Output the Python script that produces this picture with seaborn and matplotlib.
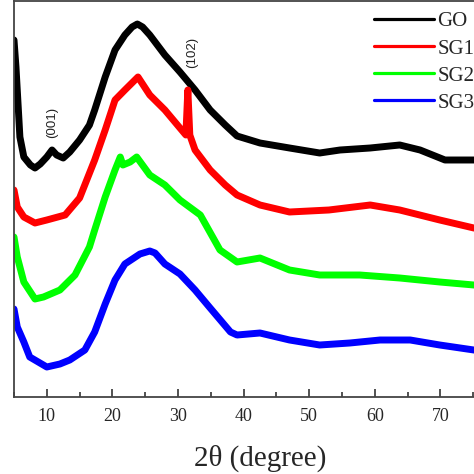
import matplotlib
matplotlib.use('Agg')
import matplotlib.pyplot as plt
from matplotlib.lines import Line2D
from matplotlib.ticker import MultipleLocator
import seaborn as sns
import pandas as pd

# ------------------------------------------------------------
# Datos (intensidad en unidades arbitrarias)
# ------------------------------------------------------------
two_theta_go = [5.0, 5.3, 5.9, 6.5, 7.5, 8.2, 9.0, 10.0, 10.8, 11.5, 12.5, 13.5,
                15.0, 16.5, 17.3, 18.9, 20.4, 21.9, 23.0, 23.8, 24.6, 25.7, 28.0,
                30.3, 32.6, 34.9, 37.2, 39.0, 42.5, 47.0, 51.6, 54.7, 59.3, 63.8,
                66.9, 70.7, 75.1, 80.0]
int_go = [357, 330, 260, 240, 232, 229, 233, 240, 247, 242, 239, 245,
          257, 272, 287, 320, 347, 362, 370, 373, 370, 362, 342,
          325, 307, 287, 272, 261, 254, 249, 244, 247, 249, 252,
          247, 237, 237, 235]

two_theta_sg1 = [5.0, 5.5, 6.5, 8.2, 10.0, 12.8, 15.0, 17.3, 18.9, 20.4, 21.9, 23.9,
                 25.7, 28.0, 30.3, 31.2, 31.5, 31.8, 32.6, 34.9, 37.2, 39.0, 42.5,
                 47.0, 53.0, 59.3, 63.8, 69.9, 75.1, 80.0]
int_sg1 = [207, 190, 180, 174, 177, 182, 199, 237, 267, 297, 307, 320,
           302, 287, 269, 262, 307, 262, 247, 227, 212, 202, 192,
           185, 187, 192, 187, 177, 169, 166]

two_theta_sg2 = [5.0, 5.5, 6.5, 8.2, 9.5, 12.0, 14.3, 16.5, 17.3, 18.9, 20.4, 21.2,
                 21.6, 22.7, 23.7, 25.7, 28.0, 30.3, 33.4, 36.4, 39.0, 42.5, 47.0,
                 51.6, 57.7, 63.8, 69.9, 75.1, 80.0]
int_sg2 = [160, 140, 115, 98, 100, 107, 122, 150, 167, 200, 227, 240,
           232, 235, 240, 222, 212, 197, 182, 147, 135, 139, 127,
           122, 122, 119, 115, 112, 110]

two_theta_sg3 = [5.0, 5.5, 6.5, 7.4, 10.0, 12.0, 13.5, 15.8, 17.3, 18.9, 20.4, 21.9,
                 24.2, 25.7, 26.5, 28.0, 30.3, 32.6, 34.9, 38.0, 39.0, 42.5, 47.0,
                 51.6, 56.2, 60.8, 65.4, 69.9, 75.1, 80.0]
int_sg3 = [88, 70, 55, 40, 30, 33, 37, 47, 65, 93, 117, 133,
           143, 146, 144, 133, 123, 107, 89, 65, 62, 64, 57,
           52, 54, 57, 57, 52, 47, 45]

samples = ['GO', 'SG1', 'SG2', 'SG3']
colors = ['#000000', '#ff0000', '#00ff00', '#0000ff']
tick_values = [10, 20, 30, 40, 50, 60, 70]

# ------------------------------------------------------------
# Tabla larga para seaborn
# ------------------------------------------------------------
frames = []
for name, xs, ys in zip(samples,
                        [two_theta_go, two_theta_sg1, two_theta_sg2, two_theta_sg3],
                        [int_go, int_sg1, int_sg2, int_sg3]):
    frames.append(pd.DataFrame({'two_theta': xs, 'intensity': ys, 'sample': name}))
df = pd.concat(frames, ignore_index=True)

sns.set_theme(style="ticks")
sns.set_style({"xtick.direction": "in", "ytick.direction": "in"})
plt.rcParams['font.family'] = ['Liberation Serif', 'DejaVu Serif']

fig = plt.figure(figsize=(4.74, 4.74), dpi=100)
# el eje se sale por la derecha (la imagen original está recortada)
ax = fig.add_axes([14 / 474, 77 / 474, 492 / 474, 396 / 474])

sns.lineplot(data=df, x='two_theta', y='intensity', hue='sample',
             palette=dict(zip(samples, colors)), linewidth=5,
             legend=False, ax=ax, sort=False)

ax.set_xlim(5, 80)
ax.set_ylim(0, 396)
ax.set_xticks(tick_values)
ax.xaxis.set_minor_locator(MultipleLocator(5))
ax.tick_params(axis='x', which='major', length=6, width=1.2, color='#333333',
               labelsize=13, pad=8)
ax.tick_params(axis='x', which='minor', length=3.5, width=1.2, color='#333333')
ax.set_yticks([])
ax.set_ylabel('')
ax.set_xlabel('2θ (degree)', fontsize=21, labelpad=14)
for sp in ax.spines.values():
    sp.set_color('#444444')
    sp.set_linewidth(1.3)

# anotaciones de picos
ax.text(10.8, 275, '(001)', rotation=90, ha='center', va='center',
        fontsize=9.5, family=['Liberation Sans', 'DejaVu Sans'], color='#222222')
ax.text(32.2, 345, '(102)', rotation=90, ha='center', va='center',
        fontsize=9.5, family=['Liberation Sans', 'DejaVu Sans'], color='#222222')

handles = [Line2D([0], [0], color=c, lw=2.3) for c in colors]
fig.legend(handles, samples, loc='upper left', bbox_to_anchor=(0.789, 0.975),
           frameon=False, fontsize=15, handlelength=2.9, handletextpad=0.15,
           labelspacing=0.36, borderaxespad=0, borderpad=0)

plt.savefig('out.png', dpi=100)
plt.close()
